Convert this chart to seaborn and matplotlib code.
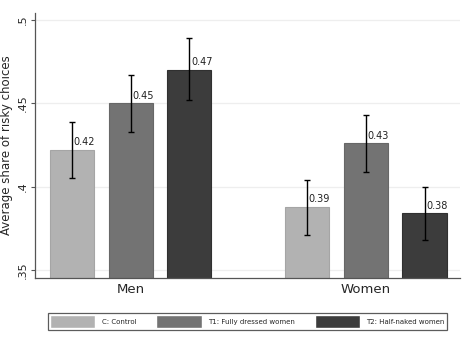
import matplotlib
matplotlib.use("Agg")
import matplotlib.pyplot as plt
import seaborn as sns
import pandas as pd

groups = ["Men", "Men", "Men", "Women", "Women", "Women"]
treatments = ["C: Control", "T1: Fully dressed women", "T2: Half-naked women"] * 2
means = [0.422, 0.450, 0.470, 0.388, 0.426, 0.384]
ci_low = [0.405, 0.433, 0.452, 0.371, 0.409, 0.368]
ci_high = [0.439, 0.467, 0.489, 0.404, 0.443, 0.400]
labels = ["0.42", "0.45", "0.47", "0.39", "0.43", "0.38"]
y_ticks = [0.35, 0.40, 0.45, 0.50]
y_ticklabels = [".35", ".4", ".45", ".5"]

colors = ["#b2b2b2", "#737373", "#3c3c3c"]
edges = ["#a5a5a5", "#676767", "#303030"]

df = pd.DataFrame({"group": groups, "treat": treatments, "mean": means})

sns.set_style("white")
plt.rcParams["font.family"] = ["DejaVu Sans"]

fig = plt.figure(figsize=(4.74, 3.51), dpi=100)
ax = fig.add_axes([0.074, 0.209, 0.897, 0.754])

sns.barplot(data=df, x="group", y="mean", hue="treat", palette=colors,
            width=0.75, gap=0.25, ax=ax, errorbar=None, legend=True)

bars = [p for p in ax.patches if p.get_height() > 0]
hue_order = ["C: Control", "T1: Fully dressed women", "T2: Half-naked women"]
for i in range(len(means)):
    h = hue_order.index(treatments[i])
    g = 0 if groups[i] == "Men" else 1
    bar = bars[h * 2 + g]
    bar.set_edgecolor(edges[h])
    bar.set_linewidth(0.8)
    cx = bar.get_x() + bar.get_width() / 2
    ax.errorbar(cx, means[i], yerr=[[means[i] - ci_low[i]], [ci_high[i] - means[i]]],
                fmt="none", ecolor="black", elinewidth=1.0, capsize=2.3, capthick=1.0, zorder=5)
    ax.text(cx + 0.008, means[i] + 0.0015, labels[i], ha="left", va="bottom",
            fontsize=7, color="#222222", zorder=6)

ax.set_ylim(0.3455, 0.504)
ax.set_xlim(-0.406, 1.402)
ax.set_yticks(y_ticks)
ax.set_yticklabels(y_ticklabels, rotation=90, va="center", fontsize=8)
ax.tick_params(axis="y", length=3, width=0.8, color="#555555", pad=2, left=True)
ax.tick_params(axis="x", length=0, labelsize=9.5, pad=4)
for yt in y_ticks:
    ax.axhline(yt, color="#eeeeee", lw=0.9, zorder=0)
ax.set_axisbelow(True)
ax.set_xlabel("")
ax.set_ylabel("Average share of risky choices", fontsize=8.5, labelpad=4)
sns.despine(ax=ax, top=True, right=True)
for s in ["left", "bottom"]:
    ax.spines[s].set_color("#555555")
    ax.spines[s].set_linewidth(0.9)

handles, lbls = ax.get_legend_handles_labels()
ax.legend_.remove()
leg = fig.legend(handles, lbls, ncol=3, loc="center",
                 bbox_to_anchor=(0.522, 0.084), frameon=True, fancybox=False,
                 fontsize=5, handlelength=6.5, handleheight=2.3,
                 columnspacing=2.9, handletextpad=0.9, borderpad=0.3,
                 borderaxespad=0)
leg.get_frame().set_edgecolor("#333333")
leg.get_frame().set_linewidth(0.9)

fig.savefig("out.png", dpi=100)
